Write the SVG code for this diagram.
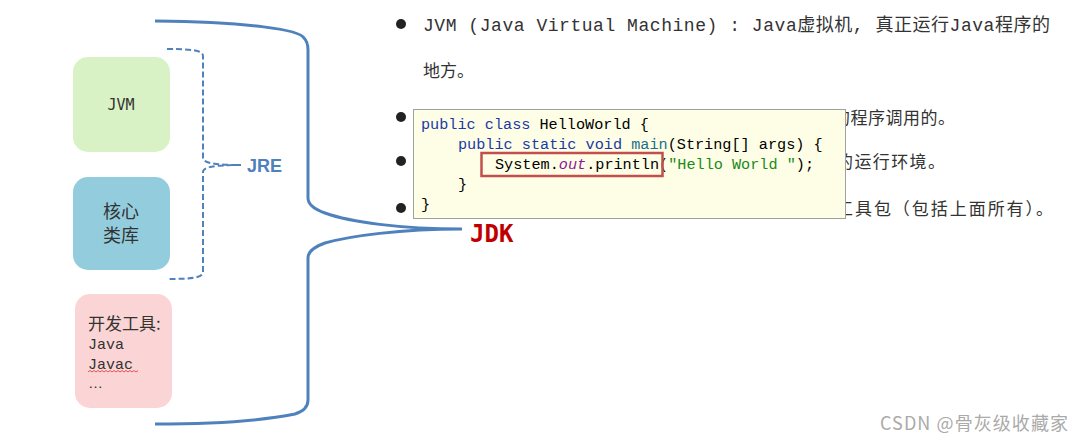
<svg xmlns="http://www.w3.org/2000/svg" width="1084" height="442" viewBox="0 0 1084 442">
<style>
.cjk{font-family:"Liberation Mono","Noto Sans CJK SC",monospace;fill:#333}
.zh{font-family:"Noto Sans CJK SC",sans-serif;fill:#333}
.code{font-family:"Liberation Mono","DejaVu Sans Mono",monospace;font-size:15.2px;fill:#000}
.kw{fill:#1a3aa8}
.fn{fill:#1b6f8a}
.fld{fill:#8a1a9a;font-style:italic}
.str{fill:#1a8a1a}
.brace{fill:none;stroke:#4f81bd;stroke-width:3}
</style>
<rect width="1084" height="442" fill="#fff"/>
<g id="connectors">
<path class="brace" d="M155,21 C250,22 300,30 304,38 Q308,42 308,50 V198 Q308,207 325,213 C350,222 400,229 462,229 C400,229 350,236 325,243 Q308,249 308,258 V400 Q308,410 295,414 C260,421 220,424 155,424"/>
<path d="M167,49 C190,49 203,50 203,56 V158 C203,163 215,165 241,165 C215,165 203,167 203,172 V272 C203,278 190,279 167,279" fill="none" stroke="#4f81bd" stroke-width="2" stroke-dasharray="6,3"/>
</g>
<g id="jvm">
<rect x="73" y="57" width="97" height="95" rx="15" fill="#d9f2c5"/>
<text x="121" y="110" text-anchor="middle" font-family="DejaVu Sans Mono,monospace" font-size="15" fill="#333">JVM</text>
</g>
<g id="corelib">
<rect x="73" y="177" width="97" height="93" rx="15" fill="#93cddd"/>
<text class="zh" x="121" y="218" text-anchor="middle" font-size="18">核心</text>
<text class="zh" x="121" y="242" text-anchor="middle" font-size="18">类库</text>
</g>
<g id="devtools">
<rect x="75" y="294" width="97" height="114" rx="15" fill="#fbd5d5"/>
<text class="zh" x="88" y="330" font-size="17">开发工具:</text>
<text x="88" y="349" font-family="Liberation Mono,monospace" font-size="15" fill="#333">Java</text>
<text x="88" y="369" font-family="Liberation Mono,monospace" font-size="15" fill="#333">Javac</text>
<path d="M88,372 l2,-1.5 2,1.5 2,-1.5 2,1.5 2,-1.5 2,1.5 2,-1.5 2,1.5 2,-1.5 2,1.5 2,-1.5 2,1.5 2,-1.5 2,1.5 2,-1.5 2,1.5 2,-1.5 2,1.5 2,-1.5 2,1.5 2,-1.5 2,1.5 2,-1.5 2,1.5 2,-1.5" fill="none" stroke="#e03030" stroke-width="0.8"/>
<text x="88" y="388" font-family="Liberation Sans,sans-serif" font-size="15" fill="#333">…</text>
</g>
<g id="jre">
<text x="247" y="172" font-family="Liberation Sans,sans-serif" font-weight="bold" font-size="18" fill="#4f81bd">JRE</text>
</g>
<g id="jdk">
<text x="470" y="242" font-family="DejaVu Sans Mono,monospace" font-weight="bold" font-size="24" fill="#c00000">JDK</text>
</g>
<g id="bullets">
<circle cx="401" cy="24" r="5" fill="#222"/>
<circle cx="401" cy="117" r="5" fill="#222"/>
<circle cx="401" cy="161" r="5" fill="#222"/>
<circle cx="401" cy="208" r="5" fill="#222"/>
<text class="cjk" x="423" y="31" font-size="18" textLength="627" lengthAdjust="spacing">JVM (Java Virtual Machine) : Java虚拟机, 真正运行Java程序的</text>
<text class="zh" x="423" y="77" font-size="17">地方。</text>
<text class="zh" x="833" y="124" font-size="17" textLength="122" lengthAdjust="spacing">的程序调用的。</text>
<text class="zh" x="836" y="168" font-size="17" textLength="109" lengthAdjust="spacing">的运行环境。</text>
<text class="zh" x="836" y="215" font-size="17" textLength="217" lengthAdjust="spacing">工具包（包括上面所有）。</text>
</g>
<g id="code-popup">
<rect x="413.5" y="109.5" width="432" height="109" fill="#fefee6" stroke="#a0a0a0" stroke-width="1"/>
<text class="code" x="421" y="129"><tspan class="kw">public class</tspan> HelloWorld {</text>
<text class="code" x="458" y="149"><tspan class="kw">public static void</tspan> <tspan class="fn">main</tspan>(String[] args) {</text>
<text class="code" x="495" y="169">System.<tspan class="fld">out</tspan>.println(<tspan class="str">"Hello World "</tspan>);</text>
<text class="code" x="458" y="189">}</text>
<text class="code" x="421" y="209">}</text>
<rect x="481.5" y="153" width="181" height="23" fill="none" stroke="#c0504d" stroke-width="2.5"/>
</g>
<g id="watermark">
<text x="880" y="430" font-family="Noto Sans CJK SC,sans-serif" font-size="18" fill="#aaa" textLength="188" lengthAdjust="spacing">CSDN @骨灰级收藏家</text>
</g>
</svg>
